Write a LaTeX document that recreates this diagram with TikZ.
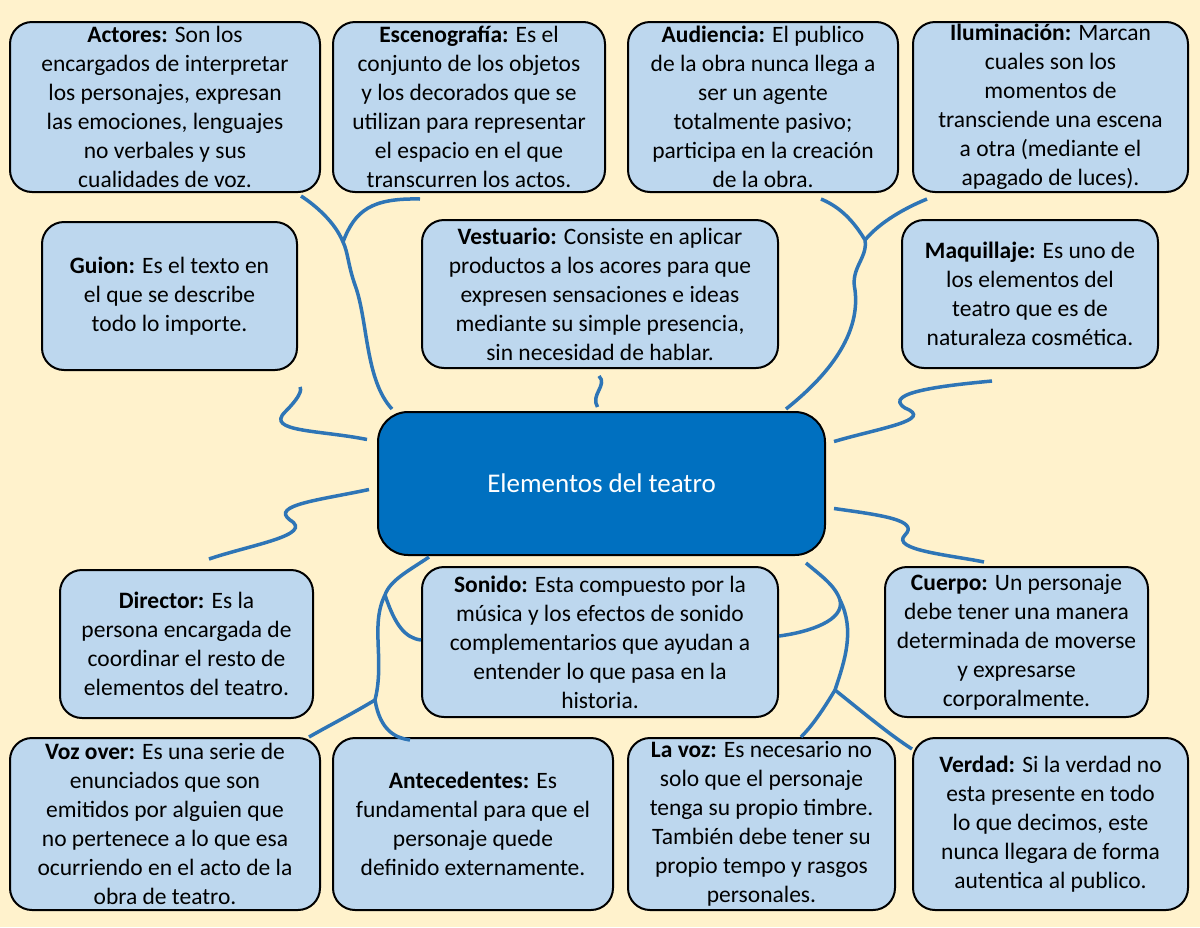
\documentclass[tikz,border=0pt]{standalone}
\usepackage{fontspec}
\setmainfont{Carlito}
\usetikzlibrary{calc}
\definecolor{bg}{HTML}{FFF2CC}
\definecolor{bx}{HTML}{BDD7EE}
\definecolor{ln}{HTML}{2E75B6}
\definecolor{cen}{HTML}{0070C0}
\begin{document}
\begin{tikzpicture}[x=1pt,y=-1pt,
 box/.style={draw=black,line width=2pt,fill=bx,rounded corners=22pt,align=center,
   font=\fontsize{23.5}{29}\selectfont,inner sep=0pt,minimum width=#1},
 wave/.style={draw=ln,line width=3.5pt}]
\fill[bg] (0,0) rectangle (1200,927);
\useasboundingbox (0,0) rectangle (1200,927);
\newcommand{\bx}[6]{\node[box=#3-#2,minimum height=#5-#4] (#1) at ({(#2+#3)/2},{(#4+#5)/2}) {#6};}
\bx{act}{10}{320}{22}{192}{\textbf{Actores:} Son los\\encargados de interpretar\\los personajes, expresan\\las emociones, lenguajes\\no verbales y sus\\cualidades de voz.}
\bx{esc}{333}{605}{22}{192}{\textbf{Escenografía:} Es el\\conjunto de los objetos\\y los decorados que se\\utilizan para representar\\el espacio en el que\\transcurren los actos.}
\bx{aud}{628}{898}{22}{192}{\textbf{Audiencia:} El publico\\de la obra nunca llega a\\ser un agente\\totalmente pasivo;\\participa en la creación\\de la obra.}
\bx{ilu}{913}{1188}{22}{192}{\textbf{Iluminación:} Marcan\\cuales son los\\momentos de\\transciende una escena\\a otra (mediante el\\apagado de luces).}
\bx{gui}{42}{297}{222}{370}{\textbf{Guion:} Es el texto en\\el que se describe\\todo lo importe.}
\bx{ves}{422}{778}{220}{368}{\textbf{Vestuario:} Consiste en aplicar\\productos a los acores para que\\expresen sensaciones e ideas\\mediante su simple presencia,\\sin necesidad de hablar.}
\bx{maq}{902}{1158}{220}{368}{\textbf{Maquillaje:} Es uno de\\los elementos del\\teatro que es de\\naturaleza cosmética.}
\node[draw=black,line width=2pt,fill=cen,rounded corners=30pt,minimum width=447,minimum height=143,
  text=white,font=\fontsize{27}{30}\selectfont] (c) at (601.5,483.5) {Elementos del teatro};
\bx{dir}{60}{313}{570}{718}{\textbf{Director:} Es la\\persona encargada de\\coordinar el resto de\\elementos del teatro.}
\bx{son}{422}{778}{567}{717}{\textbf{Sonido:} Esta compuesto por la\\música y los efectos de sonido\\complementarios que ayudan a\\entender lo que pasa en la\\historia.}
\bx{cue}{885}{1148}{567}{717}{\textbf{Cuerpo:} Un personaje\\debe tener una manera\\determinada de moverse\\y expresarse\\corporalmente.}
\bx{voz}{10}{320}{738}{910}{\textbf{Voz over:} Es una serie de\\enunciados que son\\emitidos por alguien que\\no pertenece a lo que esa\\ocurriendo en el acto de la\\obra de teatro.}
\bx{ant}{333}{613}{738}{910}{\textbf{Antecedentes:} Es\\fundamental para que el\\personaje quede\\definido externamente.}
\bx{lav}{628}{895}{738}{910}{\textbf{La voz:} Es necesario no\\solo que el personaje\\tenga su propio timbre.\\También debe tener su\\propio tempo y rasgos\\personales.}
\bx{ver}{913}{1188}{738}{910}{\textbf{Verdad:} Si la verdad  no\\esta presente en todo\\lo que decimos, este\\nunca llegara de forma\\autentica al publico.}
% connector end points
\coordinate (eAct) at ($(act.south east)+(-20,3)$);
\coordinate (eEsc) at ($(esc.south west)+(88,6)$);
\coordinate (eAud) at ($(aud.south east)+(-78,6)$);
\coordinate (eIlu) at ($(ilu.south west)+(15,6)$);
\coordinate (eGui) at ($(gui.south east)+(2,16)$);
\coordinate (eVes) at ($(ves.south)+(-1,7)$);
\coordinate (eMaq) at ($(maq.south)+(-38,12)$);
\coordinate (eDir) at ($(dir.north west)+(150,-10)$);
\coordinate (eCue) at ($(cue.north west)+(100,-4)$);
\coordinate (eVoz) at ($(voz.north east)+(-12,0)$);
\coordinate (eAnt) at ($(ant.north west)+(78,3)$);
\coordinate (eLav) at ($(lav.north east)+(-95,0)$);
\coordinate (eVer) at ($(ver.north west)+(0,12)$);
\coordinate (j1) at (343,242);
\coordinate (j2) at (865,240);
\coordinate (j3) at (385,595);
\coordinate (j4) at (375,700);
\coordinate (j5) at (840,600);
\coordinate (j6) at (835,690);
\draw[wave] ($(c.north west)+(15,-2)$) .. controls (365,380) and (368,320) .. (355,285) .. controls (348,265) and (348,252) .. (j1) .. controls (335,222) and (315,205) .. (eAct);
\draw[wave] (j1) .. controls (355,210) and (372,198) .. (eEsc);
\draw[wave] ($(c.north east)+(-40,-2)$) .. controls (835,370) and (860,330) .. (855,290) .. controls (850,268) and (868,258) .. (j2) .. controls (850,215) and (835,205) .. (eAud);
\draw[wave] (j2) .. controls (880,222) and (905,208) .. (eIlu);
\draw[wave] ($(c.west)+(-10,-44)$) .. controls (320,430) and (265,432) .. (285,412) .. controls (305,392) and (300,388) .. (eGui);
\draw[wave] ($(c.north)+(-4,-4)$) .. controls (590,395) and (608,385) .. (eVes);
\draw[wave] ($(c.east)+(8,-42)$) .. controls (880,428) and (935,420) .. (905,408) .. controls (880,392) and (950,385) .. (eMaq);
\draw[wave] ($(c.west)+(-8,6)$) .. controls (320,500) and (270,505) .. (290,520) .. controls (315,535) and (250,545) .. (eDir);
\draw[wave] ($(c.east)+(8,25)$) .. controls (880,515) and (920,520) .. (905,535) .. controls (890,550) and (950,555) .. (eCue);
\draw[wave] ($(c.south west)+(52,1)$) .. controls (410,570) and (390,580) .. (j3) .. controls (370,625) and (385,660) .. (j4);
\draw[wave] (j3) .. controls (395,625) and (405,638) .. ($(son.west)+(0,-2)$);
\draw[wave] (j4) .. controls (350,715) and (330,725) .. (eVoz);
\draw[wave] (j4) .. controls (380,730) and (395,738) .. (eAnt);
\draw[wave] ($(c.south east)+(-20,7)$) .. controls (820,575) and (835,585) .. (j5) .. controls (845,620) and (810,632) .. ($(son.east)+(0,-6)$);
\draw[wave] (j5) .. controls (855,630) and (845,660) .. (j6);
\draw[wave] (j6) .. controls (820,715) and (810,728) .. (eLav);
\draw[wave] (j6) .. controls (860,710) and (890,735) .. (eVer);
\end{tikzpicture}
\end{document}
